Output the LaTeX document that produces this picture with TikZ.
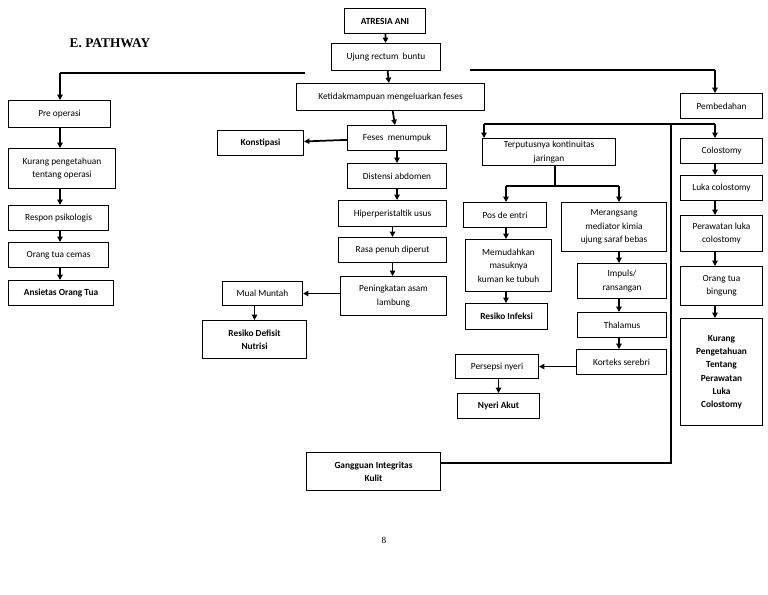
\documentclass[tikz,border=0pt]{standalone}
\usepackage{fontspec}
\setmainfont{Carlito}
\newfontfamily\ser{Liberation Serif}
\usetikzlibrary{arrows.meta}
\begin{document}
\begin{tikzpicture}[x=0.75pt,y=-0.75pt,
 box/.style={draw,line width=0.8pt,align=center,font=\fontsize{7}{10}\selectfont},
 bb/.style={box,font=\fontsize{7}{10}\selectfont\bfseries},
 ar/.style={line width=1.3pt,-{Triangle[length=4pt,width=4pt]}},
 ln/.style={line width=1.3pt}]
\useasboundingbox (0,0) rectangle (768,594);
\fill[white] (0,0) rectangle (768,594);
\newcommand\bx[7][box]{\node[#1,minimum width=#4*0.75pt-#2*0.75pt,minimum height=#5*0.75pt-#3*0.75pt,inner sep=1pt,anchor=north west] (#6) at (#2,#3) {#7};}
\bx[bb]{344}{8}{425}{33}{atr}{ATRESIA ANI}
\bx{331}{43}{440}{70}{uj}{Ujung rectum\ \ buntu}
\bx{296}{83}{484}{110}{ket}{Ketidakmampuan mengeluarkan feses}
\bx{8}{100}{110}{127}{pre}{Pre operasi}
\bx{8}{148}{115}{188}{kp}{Kurang pengetahuan\\tentang operasi}
\bx{8}{205}{108}{230}{rp}{Respon psikologis}
\bx{8}{242}{108}{267}{otc}{Orang tua cemas}
\bx[bb]{8}{280}{113}{305}{ans}{Ansietas Orang Tua}
\bx[bb]{217}{130}{303}{155}{kon}{Konstipasi}
\bx{347}{125}{446}{150}{fm}{Feses\ \ menumpuk}
\bx{347}{163}{446}{188}{da}{Distensi abdomen}
\bx{338}{200}{446}{226}{hu}{Hiperperistaltik usus}
\bx{338}{237}{446}{262}{rpd}{Rasa penuh diperut}
\bx{340}{276}{446}{315}{pal}{Peningkatan asam\\lambung}
\bx{222}{281}{302}{305}{mm}{Mual Muntah}
\bx[bb]{202}{320}{306}{358}{rdn}{Resiko Defisit\\Nutrisi}
\bx{482}{138}{615}{165}{tkj}{Terputusnya kontinuitas\\jaringan}
\bx{463}{202}{546}{227}{pde}{Pos de entri}
\bx{561}{202}{666}{251}{mer}{Merangsang\\mediator kimia\\ujung saraf bebas}
\bx{465}{239}{551}{291}{mem}{Memudahkan\\masuknya\\kuman ke tubuh}
\bx[bb]{465}{303}{547}{329}{ri}{Resiko Infeksi}
\bx{577}{263}{666}{298}{imp}{Impuls/\\ransangan}
\bx{577}{312}{666}{337}{tha}{Thalamus}
\bx{576}{349}{666}{374}{kor}{Korteks serebri}
\bx{455}{354}{538}{378}{pn}{Persepsi nyeri}
\bx[bb]{457}{393}{539}{418}{na}{Nyeri Akut}
\bx{680}{93}{762}{118}{pem}{Pembedahan}
\bx{680}{138}{762}{163}{col}{Colostomy}
\bx{680}{175}{762}{200}{lc}{Luka colostomy}
\bx{680}{215}{762}{251}{plc}{Perawatan luka\\colostomy}
\bx{680}{266}{762}{305}{otb}{Orang tua\\bingung}
\bx[bb]{680}{318}{762}{425}{kpt}{Kurang\\Pengetahuan\\Tentang\\Perawatan\\Luka\\Colostomy}
\bx[bb]{306}{452}{440}{490}{gik}{Gangguan Integritas\\Kulit}
\node[font=\ser\bfseries\fontsize{10}{12}\selectfont] (tit) at (110,43) {E. PATHWAY};
\node[font=\ser\fontsize{7}{9}\selectfont] (pg) at (384,540) {8};
% main chain
\draw[ar] (atr) -- (uj);
\draw[ar] (uj) -- (ket);
\draw[ar] (ket) -- (fm);
\draw[ar] (fm) -- (kon);
\draw[ar] (fm) -- (da);
\draw[ar] (da.south) -- (da.south|-hu.north);
\draw[ar] (hu) -- (rpd.north-|hu);
\draw[ar] (rpd.south) -- (rpd.south|-pal.north);
\draw[ar] (pal.west|-mm) -- (mm);
\draw[ar] (mm.south-|rdn) -- (rdn);
% left branch
\coordinate (l1) at (305,73); \coordinate (l2) at (60,73);
\draw[ln] (l1) -- (l2);
\draw[ar] (l2) -- (pre.north-|l2);
\draw[ar] (pre.south-|l2) -- (kp.north-|l2);
\draw[ar] (kp.south-|l2) -- (rp.north-|l2);
\draw[ar] (rp.south-|l2) -- (otc.north-|l2);
\draw[ar] (otc.south-|l2) -- (ans.north-|l2);
% right branch
\coordinate (r1) at (470,70); \coordinate (r2) at (715,70);
\draw[ln] (r1) -- (r2);
\draw[ar] (r2) -- (pem.north-|r2);
\coordinate (b1) at (484,124); \coordinate (b2) at (715,124); \coordinate (b3) at (671,124);
\coordinate (b4) at (671,463);
\draw[ln] (b1) -- (b2);
\draw[ar] (b1) -- (tkj.north-|b1);
\draw[ar] (b2) -- (col.north-|b2);
\draw[ln] (b3) -- (b4) -- (gik.east|-b4);
\draw[ar] (col.south-|b2) -- (lc.north-|b2);
\draw[ar] (lc.south-|b2) -- (plc.north-|b2);
\draw[ar] (plc.south-|b2) -- (otb.north-|b2);
\draw[ar] (otb.south-|b2) -- (kpt.north-|b2);
% terputusnya split
\coordinate (s0) at (555,186); \coordinate (s1) at (506,186); \coordinate (s2) at (619,186);
\draw[ln] (tkj.south-|s0) -- (s0);
\draw[ln] (s1) -- (s2);
\draw[ar] (s1) -- (pde.north-|s1);
\draw[ar] (s2) -- (mer.north-|s2);
\draw[ar] (pde.south-|s1) -- (mem.north-|s1);
\draw[ar] (mem.south-|s1) -- (ri.north-|s1);
\draw[ar] (mer.south-|s2) -- (imp.north-|s2);
\draw[ar] (imp.south-|s2) -- (tha.north-|s2);
\draw[ar] (tha.south-|s2) -- (kor.north-|s2);
\draw[ar] (kor.west|-pn) -- (pn);
\draw[ar] (pn.south-|na) -- (na);
\end{tikzpicture}
\end{document}
